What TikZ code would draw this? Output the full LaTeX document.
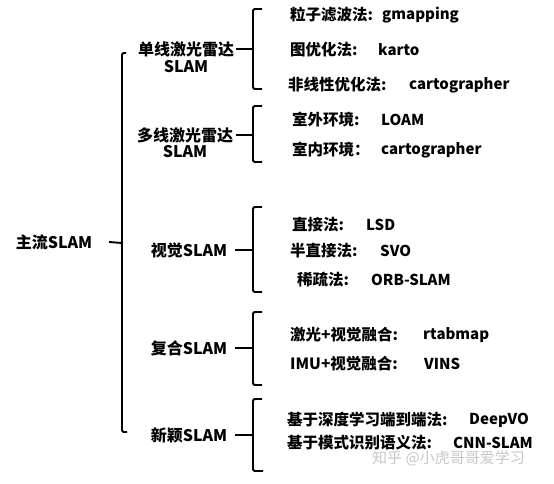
\documentclass[tikz,border=0pt]{standalone}
\usepackage{fontspec}
\newfontfamily\cjk{Noto Sans CJK SC}
\usetikzlibrary{positioning}

\begin{document}
\begin{tikzpicture}[x=1pt, y=-1pt, node distance=0pt,
        root/.style={font=\cjk\bfseries\fontsize{16}{19}\selectfont, inner sep=1pt},
        cat/.style={font=\cjk\bfseries\fontsize{16}{19}\selectfont, inner sep=1pt},
        leaf/.style={font=\cjk\bfseries\fontsize{15.5}{19}\selectfont, anchor=west, inner sep=0pt},
        val/.style={font=\cjk\bfseries\fontsize{15}{19}\selectfont, anchor=west, inner sep=0pt},
        brace/.style={line width=1.9pt, rounded corners=1.5pt},
        link/.style={line width=1.9pt},
        watermark/.style={font=\cjk\fontsize{15}{19}\selectfont, text=black!22, anchor=west, inner sep=0pt}]

    \useasboundingbox (0,0) rectangle (554,483);

    % Root
    \node[root] (main) at (54,242) {主流SLAM};

    % Categories
    \node[cat] (single) at (186,49) {单线激光雷达};
    \node[cat, below=1pt of single] (singleb) {SLAM};
    \node[cat] (multi) at (185,135) {多线激光雷达};
    \node[cat, below=0pt of multi] (multib) {SLAM};
    \node[cat] (visual) at (189,250) {视觉SLAM};
    \node[cat] (fusion) at (189,348) {复合SLAM};
    \node[cat] (novel) at (189,435) {新颖SLAM};

    % Main bracket
    \coordinate (mtop) at (122,53);
    \coordinate (mbot) at (122,432);
    \coordinate (mmid) at (122,243);
    \draw[brace] ([xshift=4pt]mtop) -- (mtop) -- (mbot) -- ([xshift=5pt]mbot);
    \draw[link] (main.east -| 109,0) -- (mmid);

    % Bracket points of the categories
    \coordinate (b1) at (253,49);
    \coordinate (b2) at (253,135);
    \coordinate (b3) at (253,250);
    \coordinate (b4) at (253,348);
    \coordinate (b5) at (253,435);

    \draw[brace] (262,9) -- (253,9) -- (253,89) -- (262,89);
    \draw[brace] (262,106) -- (253,106) -- (253,162) -- (262,162);
    \draw[brace] (262,207) -- (253,207) -- (253,292) -- (262,292);
    \draw[brace] (262,312) -- (253,312) -- (253,385) -- (262,385);
    \draw[brace] (262,399) -- (253,399) -- (253,471) -- (263,471);

    \draw[link] (single.east) ++(1pt,0) -- (b1);
    \draw[link] (multi.east) ++(2pt,0) -- (b2);
    \draw[link] (visual.east) ++(7pt,0) -- (b3);
    \draw[link] (fusion.east) ++(7pt,0) -- (b4);
    \draw[link] (novel.east) ++(7pt,0) -- (b5);

    % Single-line lidar
    \node[leaf] (pf) at (290,15) {粒子滤波法:};
    \node[val] (pfv) at (382,15) {gmapping};
    \node[leaf] (go) at (290,50) {图优化法:};
    \node[val] (gov) at (378,50) {karto};
    \node[leaf] (nl) at (288,85) {非线性优化法:};
    \node[val] (nlv) at (409,85) {cartographer};

    % Multi-line lidar
    \node[leaf] (out) at (292,120) {室外环境:};
    \node[val] (outv) at (381,120) {LOAM};
    \node[leaf] (in) at (292,150) {室内环境：};
    \node[val] (inv) at (381,150) {cartographer};

    % Visual
    \node[leaf] (dir) at (292,225) {直接法:};
    \node[val] (dirv) at (366,225) {LSD};
    \node[leaf] (semi) at (290,251) {半直接法:};
    \node[val] (semiv) at (380,251) {SVO};
    \node[leaf] (sparse) at (297,280) {稀疏法:};
    \node[val] (sparsev) at (371,280) {ORB-SLAM};

    % Fusion
    \node[leaf] (lv) at (290,335) {激光+视觉融合:};
    \node[val] (lvv) at (423,335) {rtabmap};
    \node[leaf] (iv) at (290,364) {IMU+视觉融合:};
    \node[val] (ivv) at (424,364) {VINS};

    % Novel
    \node[leaf] (dl) at (287,420) {基于深度学习端到端法:};
    \node[val] (dlv) at (469,420) {DeepVO};
    \node[leaf] (pr) at (287,443) {基于模式识别语义法:};
    \node[val] (prv) at (453,443) {CNN-SLAM};

    \node[watermark] (wm) at (372,458) {知乎 @小虎哥哥爱学习};

\end{tikzpicture}
\end{document}
